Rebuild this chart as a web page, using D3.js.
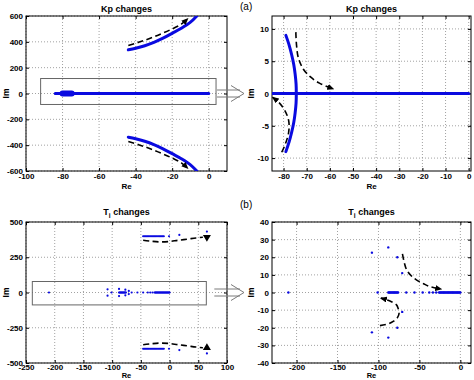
<!DOCTYPE html>
<html><head><meta charset="utf-8">
<script src="https://cdn.jsdelivr.net/npm/d3@7"></script>
<style>body{margin:0;background:#fff}svg{display:block}</style>
</head><body><svg id="c" width="474" height="380"></svg>
<script>
// ---------- data ----------
const kpTicksX = [-100, -80, -60, -40, -20, 0];
const kpTicksY = [-600, -400, -200, 0, 200, 400, 600];
const kpZoomTicksX = [-80, -70, -60, -50, -40, -30, -20, -10, 0];
const kpZoomTicksY = [-10, -5, 0, 5, 10];
const tiTicksX = [-250, -200, -150, -100, -50, 0, 50, 100];
const tiTicksY = [-500, -250, 0, 250, 500];
const tiZoomTicksX = [-200, -150, -100, -50, 0];
const tiZoomTicksY = [-40, -30, -20, -10, 0, 10, 20, 30, 40];

// Kp root locus (full view)
const kpRealRe = [-84, 0];
const kpClusterRe = [-80, -75];
const kpUpperRe = [-44, -40, -35, -30, -25, -20, -15, -10, -6.5];
const kpUpperIm = [338, 350, 370, 396, 428, 466, 505, 552, 600];
const kpArrowRe = [-44, -38, -32, -26, -20, -15, -11.5];
const kpArrowIm = [372, 398, 428, 462, 500, 537, 580];
const kpBoxRe = [-92, 4];
const kpBoxIm = [-85, 116];

// Kp root locus (zoom)
const kpZoomLineRe = [-85, 0];
const kpBranchRe = [-79, -77.6, -76.5, -75.6, -75, -74.6, -74.5, -74.6, -75, -75.6, -76.5, -77.6, -79];
const kpBranchIm = [9, 7.5, 6, 4.5, 3, 1.5, 0, -1.5, -3, -4.5, -6, -7.5, -9];
const kpZoomArrowUpRe = [-74.7, -74.4, -73.6, -71.5, -68.5, -64.5, -58.5];
const kpZoomArrowUpIm = [9.5, 7.5, 5.5, 3.8, 2.6, 1.6, 0.7];
const kpZoomArrowDnRe = [-80.8, -79.2, -77.8, -77.8, -79.5, -82, -84.7];
const kpZoomArrowDnIm = [-9.1, -7.8, -6, -4.2, -2.6, -1.4, -0.6];

// Ti poles
const tiAxisRe = [-210, -101, -88, -87, -86, -85, -84, -83, -82, -81, -80, -79, -78, -77, -76,
  -66, -56, -46, -38, -33.5, -29.5, -26, -25, -24, -23, -22, -21, -20, -19, -18, -17, -16, -15,
  -14, -13, -12, -11, -10, -9, -8, -7, -6, -5, -4, -3, -2, -1, 0];
const tiPairRe = [-108, -88, -77, -71];
const tiPairIm = [22.6, 25.6, 20, 11];
const tiHighRe = [-46, -44, -42, -40, -38, -36, -34, -32, -30, -28, -26, -24, -22, -20, -18, -16, -14, -12, -10, -1, 17, 65];
const tiHighIm = [399, 399, 399, 399, 399, 399, 399, 399, 399, 399, 399, 399, 399, 399, 399, 399, 399, 399, 399, 399, 408, 432];
const tiArrowRe = [-46, -32, -17, 0, 14, 30, 46, 58];
const tiArrowIm = [371, 364, 359, 362, 370, 378, 387, 392];
const tiArrowTip = [65, 392];
const tiBoxRe = [-239, 64];
const tiBoxIm = [-88, 78];

// Ti zoom arrows
const tiZoomArrowUpRe = [-70.7, -68.5, -65.5, -60, -53.7, -45, -37.6, -23.4];
const tiZoomArrowUpIm = [21.9, 17, 12.8, 9.5, 7.2, 5, 3.4, 1.9];
const tiZoomArrowDnRe = [-98.2, -88, -82, -76.5, -74.8, -76, -78, -86, -97];
const tiZoomArrowDnIm = [-18.8, -17.8, -16.4, -14, -11.6, -9, -7, -4.8, -3.2];

// ---------- drawing ----------
const svg = d3.select("#c");
const BLUE = "#0a0ae0";
const FONT = "'Liberation Sans', Arial, Helvetica, sans-serif";

const defs = svg.append("defs");
defs.append("marker").attr("id", "ah").attr("markerUnits", "userSpaceOnUse")
  .attr("markerWidth", 7).attr("markerHeight", 6).attr("refX", 6).attr("refY", 3)
  .attr("orient", "auto")
  .append("path").attr("d", "M0,0 L7,3 L0,6 z").attr("fill", "#000");

let clipN = 0;
function panel(cfg) {
  const x = d3.scaleLinear().domain(cfg.xd).range([cfg.l, cfg.r]);
  const y = d3.scaleLinear().domain(cfg.yd).range([cfg.b, cfg.t]);
  const g = svg.append("g");
  // grid
  g.append("g").selectAll("line").data(cfg.xt).join("line")
    .attr("x1", d => x(d)).attr("x2", d => x(d)).attr("y1", cfg.t).attr("y2", cfg.b)
    .attr("stroke", "#8a8a8a").attr("stroke-width", 0.8).attr("stroke-dasharray", "1,2");
  g.append("g").selectAll("line").data(cfg.yt).join("line")
    .attr("y1", d => y(d)).attr("y2", d => y(d)).attr("x1", cfg.l).attr("x2", cfg.r)
    .attr("stroke", "#8a8a8a").attr("stroke-width", 0.8).attr("stroke-dasharray", "1,2");
  const fmt = d => String(d);
  const styleAxis = a => {
    a.select(".domain").remove();
    a.selectAll("line").attr("stroke", "#000");
    a.selectAll("text").attr("font-family", FONT).attr("font-weight", "bold")
      .attr("font-size", 8).attr("fill", "#000");
  };
  g.append("g").attr("transform", `translate(0,${cfg.b})`)
    .call(d3.axisBottom(x).tickValues(cfg.xt).tickSize(-3).tickPadding(cfg.xPad).tickFormat(fmt)).call(styleAxis);
  g.append("g").attr("transform", `translate(0,${cfg.t})`)
    .call(d3.axisTop(x).tickValues(cfg.xt).tickSize(-3).tickFormat("")).call(styleAxis);
  g.append("g").attr("transform", `translate(${cfg.l},0)`)
    .call(d3.axisLeft(y).tickValues(cfg.yt).tickSize(-3).tickPadding(3).tickFormat(fmt)).call(styleAxis);
  g.append("g").attr("transform", `translate(${cfg.r},0)`)
    .call(d3.axisRight(y).tickValues(cfg.yt).tickSize(-3).tickFormat("")).call(styleAxis);
  // frame
  g.append("rect").attr("x", cfg.l).attr("y", cfg.t).attr("width", cfg.r - cfg.l).attr("height", cfg.b - cfg.t)
    .attr("fill", "none").attr("stroke", "#000").attr("stroke-width", 1);
  // labels
  const title = g.append("text").attr("x", (cfg.l + cfg.r) / 2).attr("y", cfg.titleY)
    .attr("text-anchor", "middle").attr("font-family", FONT).attr("font-weight", "bold").attr("font-size", 9);
  if (cfg.sub) {
    title.append("tspan").text(cfg.title);
    title.append("tspan").attr("font-size", 6.5).attr("dy", 2.5).text(cfg.sub);
    title.append("tspan").attr("dy", -2.5).text(" changes");
  } else title.text(cfg.title);
  g.append("text").attr("x", (cfg.l + cfg.r) / 2).attr("y", cfg.reY)
    .attr("text-anchor", "middle").attr("font-family", FONT).attr("font-weight", "bold").attr("font-size", cfg.reSize).text("Re");
  g.append("text").attr("transform", `translate(${cfg.imX},${y(0)}) rotate(-90)`)
    .attr("text-anchor", "middle").attr("font-family", FONT).attr("font-weight", "bold").attr("font-size", 8.5).text("Im");
  // clipped data layer
  const id = "clip" + (clipN++);
  defs.append("clipPath").attr("id", id).append("rect")
    .attr("x", cfg.l).attr("y", cfg.t).attr("width", cfg.r - cfg.l).attr("height", cfg.b - cfg.t);
  const data = g.append("g").attr("clip-path", `url(#${id})`);
  const over = g.append("g");
  return { x, y, data, over };
}

function zipXY(a, b) { return a.map((v, i) => [v, b[i]]); }
function dashed(p, pts, arrow) {
  const line = d3.line().x(d => p.x(d[0])).y(d => p.y(d[1])).curve(d3.curveCatmullRom.alpha(0.5));
  const path = p.data.append("path").attr("d", line(pts)).attr("fill", "none").attr("stroke", "#000")
    .attr("stroke-width", 1.6).attr("stroke-dasharray", "6,3.5");
  if (arrow) path.attr("marker-end", "url(#ah)");
}
function solid(p, pts, w, curve) {
  const line = d3.line().x(d => p.x(d[0])).y(d => p.y(d[1]));
  if (curve) line.curve(d3.curveCatmullRom.alpha(0.5));
  p.data.append("path").attr("d", line(pts)).attr("fill", "none").attr("stroke", BLUE)
    .attr("stroke-width", w).attr("stroke-linecap", "round");
}
function box(p, re, im) {
  p.over.append("rect").attr("x", p.x(re[0])).attr("y", p.y(im[1]))
    .attr("width", p.x(re[1]) - p.x(re[0])).attr("height", p.y(im[0]) - p.y(im[1]))
    .attr("fill", "none").attr("stroke", "#666").attr("stroke-width", 1);
}
function dots(p, pts, r) {
  p.data.append("g").selectAll("circle").data(pts).join("circle")
    .attr("cx", d => p.x(d[0])).attr("cy", d => p.y(d[1])).attr("r", r).attr("fill", BLUE);
}
function connector(x0, x1, yc) {
  const g = svg.append("g").attr("stroke", "#7a7a7a").attr("stroke-width", 1).attr("fill", "none");
  g.append("line").attr("x1", x0).attr("x2", x1 - 4).attr("y1", yc - 3.5).attr("y2", yc - 3.5);
  g.append("line").attr("x1", x0).attr("x2", x1 - 4).attr("y1", yc + 3.5).attr("y2", yc + 3.5);
  g.append("path").attr("d", `M${x1 - 13},${yc - 8} L${x1},${yc} L${x1 - 13},${yc + 8}`);
}

// Panel 1: Kp full
const p1 = panel({ l: 26, r: 227, t: 16, b: 171, xd: [-100, 10], yd: [-600, 600], xt: kpTicksX, yt: kpTicksY,
  title: "Kp changes", titleY: 11.5, reY: 188.5, reSize: 8, imX: 9, xPad: 2.5 });
solid(p1, kpRealRe.map(v => [v, 0]), 3);
solid(p1, kpClusterRe.map(v => [v, 0]), 6);
solid(p1, zipXY(kpUpperRe, kpUpperIm), 3, true);
solid(p1, zipXY(kpUpperRe, kpUpperIm.map(v => -v)), 3, true);
dashed(p1, zipXY(kpArrowRe, kpArrowIm), true);
dashed(p1, zipXY(kpArrowRe, kpArrowIm.map(v => -v)), true);
box(p1, kpBoxRe, kpBoxIm);
connector(p1.x(kpBoxRe[1]) + 1, 244, p1.y(0));

// Panel 2: Kp zoom
const p2 = panel({ l: 272, r: 471, t: 16, b: 171, xd: [-85, 1], yd: [-12, 12], xt: kpZoomTicksX, yt: kpZoomTicksY,
  title: "Kp changes", titleY: 11.5, reY: 188.5, reSize: 8, imX: 254, xPad: 2.5 });
solid(p2, kpZoomLineRe.map(v => [v, 0]), 3);
solid(p2, zipXY(kpBranchRe, kpBranchIm), 3, true);
dashed(p2, zipXY(kpZoomArrowUpRe, kpZoomArrowUpIm), true);
dashed(p2, zipXY(kpZoomArrowDnRe, kpZoomArrowDnIm), true);

// Panel 3: Ti full
const p3 = panel({ l: 26, r: 227, t: 222, b: 363, xd: [-250, 100], yd: [-500, 500], xt: tiTicksX, yt: tiTicksY,
  title: "T", sub: "i", titleY: 215, reY: 378.4, reSize: 7.5, imX: 9, xPad: 1 });
const tiAll = tiAxisRe.map(v => [v, 0])
  .concat(zipXY(tiPairRe, tiPairIm), zipXY(tiPairRe, tiPairIm.map(v => -v)),
          zipXY(tiHighRe, tiHighIm), zipXY(tiHighRe, tiHighIm.map(v => -v)));
dots(p3, tiAll, 1.1);
dashed(p3, zipXY(tiArrowRe, tiArrowIm), false);
dashed(p3, zipXY(tiArrowRe, tiArrowIm.map(v => -v)), false);
p3.data.append("path").attr("d", d3.symbol(d3.symbolTriangle, 28)())
  .attr("transform", `translate(${p3.x(tiArrowTip[0])},${p3.y(tiArrowTip[1])}) rotate(180)`).attr("fill", "#000");
p3.data.append("path").attr("d", d3.symbol(d3.symbolTriangle, 28)())
  .attr("transform", `translate(${p3.x(tiArrowTip[0])},${p3.y(-tiArrowTip[1])})`).attr("fill", "#000");
box(p3, tiBoxRe, tiBoxIm);
connector(p3.x(tiBoxRe[1]) + 8, 244, p3.y(0));

// Panel 4: Ti zoom
const p4 = panel({ l: 272, r: 471, t: 222, b: 363, xd: [-230, 13], yd: [-40, 40], xt: tiZoomTicksX, yt: tiZoomTicksY,
  title: "T", sub: "i", titleY: 215, reY: 378.4, reSize: 7.5, imX: 254, xPad: 1 });
dots(p4, tiAxisRe.map(v => [v, 0]).concat(zipXY(tiPairRe, tiPairIm), zipXY(tiPairRe, tiPairIm.map(v => -v))), 1.2);
dashed(p4, zipXY(tiZoomArrowUpRe, tiZoomArrowUpIm), true);
dashed(p4, zipXY(tiZoomArrowDnRe, tiZoomArrowDnIm), true);

// panel tags
svg.append("text").attr("x", 240).attr("y", 10).attr("font-family", FONT).attr("font-size", 10).text("(a)");
svg.append("text").attr("x", 240).attr("y", 208).attr("font-family", FONT).attr("font-size", 10).text("(b)");
</script></body></html>
